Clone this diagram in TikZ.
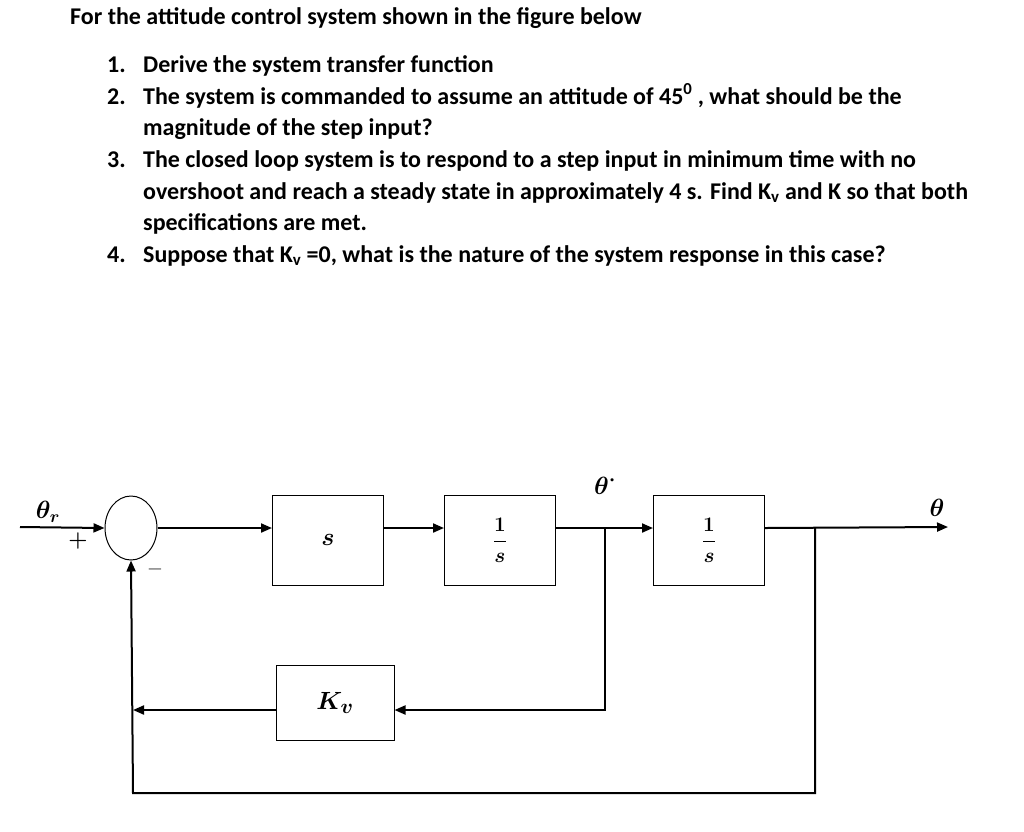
\documentclass[tikz,border=0pt]{standalone}
\usepackage{amsmath,bm}
\usepackage{fontspec}
\newfontfamily\carfont{Carlito}
\usetikzlibrary{arrows.meta,shapes.geometric}
\newcommand\fsz[1]{\fontsize{#1}{#1}\selectfont}
\begin{document}
\begin{tikzpicture}[x=1pt,y=-1pt,
  blk/.style={draw,line width=1pt,minimum width=111pt,minimum height=90pt,inner sep=0pt},
  ln/.style={line width=2pt},
  arr/.style={ln,-{Triangle[length=11pt,width=9pt]}},
  txt/.style={anchor=base west,inner sep=0pt,font=\carfont\bfseries\fontsize{24}{28}\selectfont}]
\useasboundingbox (0,0) rectangle (1024,831);
\node[txt] (t0) at (70,24) {For the attitude control system shown in the figure below};
\node[txt] (n1) at (107,72) {1.}; \node[txt] (l1) at (143,72) {Derive the system transfer function};
\node[txt] (n2) at (107,104) {2.}; \node[txt] (l2) at (143,104) {The system is commanded to assume an attitude of 45\textsuperscript{0} , what should be the};
\node[txt] (l2b) at (143,135) {magnitude of the step input?};
\node[txt] (n3) at (107,167) {3.}; \node[txt] (l3) at (143,167) {The closed loop system is to respond to a step input in minimum time with no};
\node[txt] (l3b) at (143,199) {overshoot and reach a steady state in approximately 4 s. Find K\textsubscript{v} and K so that both};
\node[txt] (l3c) at (143,230) {specifications are met.};
\node[txt] (n4) at (107,262) {4.}; \node[txt] (l4) at (143,262) {Suppose that K\textsubscript{v} =0, what is the nature of the system response in this case?};

\node[draw,line width=1pt,ellipse,minimum width=52pt,minimum height=64pt,inner sep=0pt] (sum) at (131,528) {};
\node[blk] (bs) at (328,540) {\fsz{26}$\bm{s}$};
\node[blk] (b1) at (500,540) {\fsz{22}$\displaystyle\bm{\frac{1}{s}}$};
\node[blk] (b2) at (709,540) {\fsz{22}$\displaystyle\bm{\frac{1}{s}}$};
\node[blk,minimum width=118pt,minimum height=75pt] (kv) at (335,703) {\fsz{30}$\bm{K_v}$};
\coordinate (in) at (20,527);
\coordinate (out) at (948,527);
\coordinate (tap1) at (605,527);
\coordinate (tap1d) at (605,710);
\coordinate (tap2) at (815,527);
\coordinate (tap2d) at (815,793);
\coordinate (lb) at (133,793);
\coordinate (lk) at (133,710);
\draw[arr] (in) -- (sum.west);
\draw[arr] (sum.east) -- (bs.west|-sum.east);
\draw[arr] (bs.east|-sum.east) -- (b1.west|-sum.east);
\draw[arr] (b1.east|-sum.east) -- (b2.west|-sum.east);
\draw[arr] (b2.east|-sum.east) -- (out);
\draw[arr] (tap1) -- (tap1d) -- (kv.east|-tap1d);
\draw[arr] (kv.west|-lk) -- (lk);
\draw[arr] (tap2) -- (tap2d) -- (lb) -- (sum.south);
\node (thr) at (48,512) {\fsz{24}$\bm{\theta_r}$};
\node (pl) at (78,541) {\fsz{22}\bfseries +};
\node (mi) at (155,572) {\fsz{22}\bfseries --};
\node (thd) at (605,485) {\fsz{32}$\bm{\theta^{\boldsymbol\cdot}}$};
\node (th) at (937,508) {\fsz{24}$\bm{\theta}$};
\end{tikzpicture}
\end{document}
